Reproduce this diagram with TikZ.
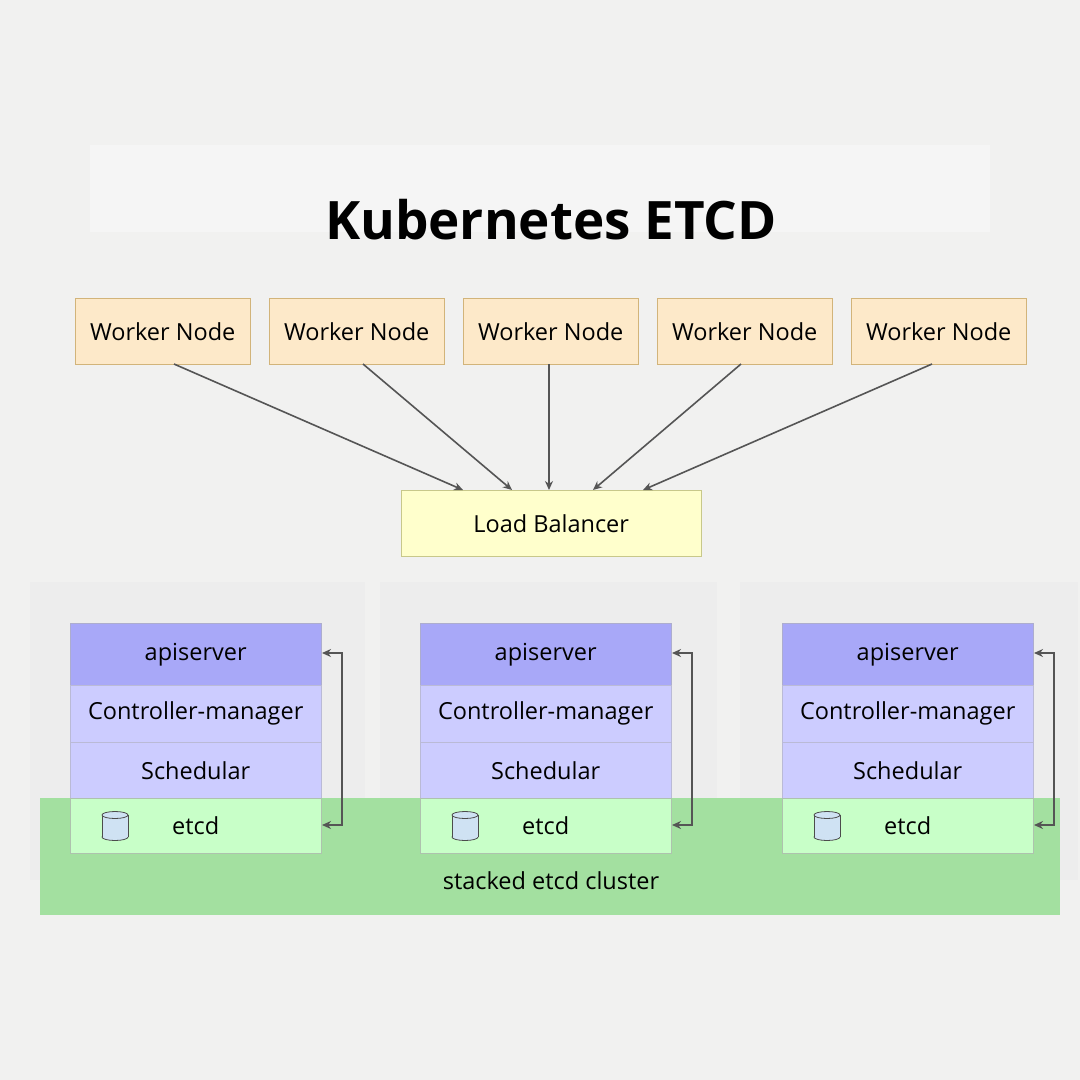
\documentclass[tikz,border=0pt]{standalone}
\usepackage{fontspec}
\setmainfont{Open Sans}
\usetikzlibrary{arrows.meta}
\definecolor{bg}{HTML}{F1F1F0}
\definecolor{tpanel}{HTML}{F5F5F5}
\definecolor{panel}{HTML}{EDEDED}
\definecolor{cluster}{HTML}{A3E0A0}
\definecolor{api}{HTML}{A8A8F8}
\definecolor{mid}{HTML}{CCCCFF}
\definecolor{etcdc}{HTML}{C8FFC8}
\definecolor{wfill}{HTML}{FDE9C9}
\definecolor{wdraw}{HTML}{D2B47A}
\definecolor{lbfill}{HTML}{FFFFCC}
\definecolor{lbdraw}{HTML}{C8C88A}
\definecolor{arr}{HTML}{555555}
\definecolor{cyl}{HTML}{CFE2F3}
\begin{document}
\begin{tikzpicture}[x=1pt,y=-1pt,
  txt/.style={font=\fontsize{23.5}{26}\selectfont},
  worker/.style={txt,draw=wdraw,fill=wfill,minimum width=175pt,minimum height=66pt,anchor=north west,inner sep=0pt},
  lb/.style={txt,draw=lbdraw,fill=lbfill,minimum width=300pt,minimum height=66pt,anchor=north west},
  layer/.style={txt,minimum width=251pt,anchor=north west,inner sep=0pt},
  conn/.style={draw=arr,line width=1.6pt,-{Stealth[length=9pt,width=8pt]}},
  loop/.style={draw=arr,line width=1.6pt,{Stealth[length=9pt,width=8pt]}-{Stealth[length=9pt,width=8pt]}}]
\fill[bg] (0,0) rectangle (1080,1080);
\useasboundingbox (0,0) rectangle (1080,1080);
\fill[tpanel] (90,145) rectangle (990,232);
\node (title) at (551,220) {\fontsize{53}{60}\selectfont\bfseries Kubernetes ETCD};
\foreach \a/\b in {30/365,380/717,740/1078}{\fill[panel] (\a,582) rectangle (\b,880);}
\fill[cluster] (40,798) rectangle (1060,915);
\node[txt] (cl) at (551,881) {stacked etcd cluster};
\foreach \i/\x in {1/75,2/269,3/463,4/657,5/851}{\node[worker] (w\i) at (\x,298) {Worker Node};}
\node[lb] (lb) at (401,490) {Load Balancer};
\coordinate (t1) at (463,490); \coordinate (t2) at (512,490); \coordinate (t3) at (549,490);
\coordinate (t4) at (593,490); \coordinate (t5) at (643,490);
\draw[conn] (174,364) -- (t1);
\draw[conn] (363,364) -- (t2);
\draw[conn] (549,364) -- (t3);
\draw[conn] (741,364) -- (t4);
\draw[conn] (932,364) -- (t5);
\foreach \s/\x in {1/70,2/420,3/782}{
  \node[layer,fill=api,draw=api!70!black!60,minimum height=62pt] (a\s) at (\x,623) {apiserver};
  \node[layer,fill=mid,draw=api!70!black!50,minimum height=57pt] (c\s) at (\x,685) {Controller-manager};
  \node[layer,fill=mid,draw=api!70!black!50,minimum height=56pt] (s\s) at (\x,742) {Schedular};
  \node[layer,fill=etcdc,draw=etcdc!60!black!60,minimum height=55pt] (e\s) at (\x,798) {etcd};
  \filldraw[draw=black!70,fill=cyl,line width=0.8pt] (\x+45,837) ellipse[x radius=13pt,y radius=3.5pt];
  \fill[cyl] (\x+32,815) rectangle (\x+58,837);
  \draw[black!70,line width=0.8pt] (\x+32,815) -- (\x+32,837) (\x+58,815) -- (\x+58,837);
  \filldraw[draw=black!70,fill=cyl,line width=0.8pt] (\x+45,815) ellipse[x radius=13pt,y radius=3.5pt];
  \coordinate (p\s) at (\x+272,653);
  \coordinate (q\s) at (\x+272,825);
  \draw[loop] (\x+252,653) -- (p\s) -- (q\s) -- (\x+252,825);
}
\end{tikzpicture}
\end{document}
